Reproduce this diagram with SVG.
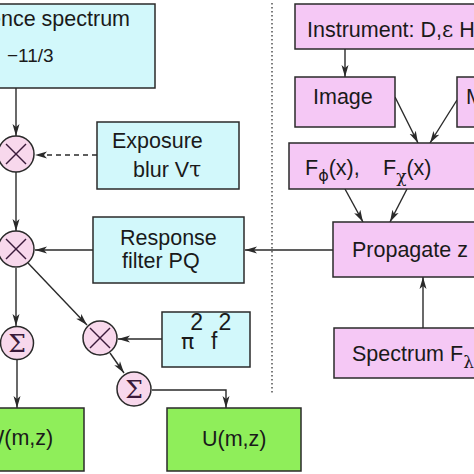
<svg xmlns="http://www.w3.org/2000/svg" width="474" height="474" viewBox="0 0 474 474">
<style>
.t{font-family:"Liberation Sans",Arial,sans-serif;font-size:21.5px;fill:#1a1a1a}
.cy{fill:#d2f8fb;stroke:#2a2a2a;stroke-width:1.5}
.pk{fill:#f5c8f5;stroke:#2a2a2a;stroke-width:1.5}
.gr{fill:#8fee5a;stroke:#2a2a2a;stroke-width:1.5}
.ci{fill:#f8d8ec;stroke:#2a2a2a;stroke-width:1.5}
.x{stroke:#3a1a3a;stroke-width:1.4}
.sg{font-family:"DejaVu Serif",serif;font-size:25px;fill:#3a1a3a}
.c{fill:none;stroke:#2a2a2a;stroke-width:1.4}
</style>
<defs>
<marker id="a" viewBox="0 0 12 8" refX="12" refY="4" markerWidth="12" markerHeight="8" markerUnits="userSpaceOnUse" orient="auto">
<path d="M0,0.5 L12,4 L0,7.5 L3,4 Z" fill="#2a2a2a"/>
</marker>
</defs>
<rect width="474" height="474" fill="#ffffff"/>
<g id="connectors">
<line class="c" x1="16" y1="88" x2="16" y2="136" marker-end="url(#a)"/>
<line class="c" x1="97" y1="155" x2="35" y2="155" stroke-dasharray="5,4" marker-end="url(#a)"/>
<line class="c" x1="16" y1="172" x2="16" y2="231" marker-end="url(#a)"/>
<line class="c" x1="93" y1="250" x2="35" y2="250" marker-end="url(#a)"/>
<line class="c" x1="333" y1="250" x2="245" y2="250" marker-end="url(#a)"/>
<line class="c" x1="16" y1="268" x2="16" y2="326" marker-end="url(#a)"/>
<line class="c" x1="28" y1="263" x2="87" y2="325" marker-end="url(#a)"/>
<line class="c" x1="162" y1="339" x2="118" y2="339" marker-end="url(#a)"/>
<line class="c" x1="110" y1="353" x2="124" y2="373" marker-end="url(#a)"/>
<line class="c" x1="17" y1="360" x2="17" y2="408" marker-end="url(#a)"/>
<polyline class="c" points="152,390 226,390 226,408" marker-end="url(#a)"/>
<line x1="272" y1="3" x2="272" y2="393" stroke="#444" stroke-width="1.4" stroke-dasharray="1.5,2.5"/>
<line class="c" x1="345" y1="49" x2="345" y2="77" marker-end="url(#a)"/>
<line class="c" x1="395" y1="97" x2="418" y2="143" marker-end="url(#a)"/>
<line class="c" x1="457" y1="100" x2="430" y2="143" marker-end="url(#a)"/>
<line class="c" x1="345" y1="189" x2="363" y2="222" marker-end="url(#a)"/>
<line class="c" x1="407" y1="189" x2="390" y2="222" marker-end="url(#a)"/>
<line class="c" x1="423" y1="328" x2="423" y2="277" marker-end="url(#a)"/>
</g>
<g id="turbulence">
<rect class="cy" x="-10" y="4" width="165" height="84"/>
<text class="t" x="130" y="26" text-anchor="end">Turbulence spectrum</text>
<text class="t" x="7" y="62" style="font-size:19px">−11/3</text>
</g>
<g id="mult1">
<circle class="ci" cx="16" cy="154" r="18"/>
<line class="x" x1="6" y1="144" x2="26" y2="164"/><line class="x" x1="26" y1="144" x2="6" y2="164"/>
</g>
<g id="exposure">
<rect class="cy" x="97" y="122" width="142" height="67"/>
<text class="t" x="112" y="148">Exposure</text>
<text class="t" x="133" y="177">blur  V<tspan font-family="DejaVu Serif,serif">τ</tspan></text>
</g>
<g id="mult2">
<circle class="ci" cx="16" cy="249" r="18"/>
<line class="x" x1="6" y1="239" x2="26" y2="259"/><line class="x" x1="26" y1="239" x2="6" y2="259"/>
</g>
<g id="response">
<rect class="cy" x="93" y="217" width="151" height="66"/>
<text class="t" x="120" y="245">Response</text>
<text class="t" x="122" y="268">filter PQ</text>
</g>
<g id="sum1">
<circle class="ci" cx="17" cy="343" r="16.5"/>
<text class="sg" x="17" y="352" text-anchor="middle">Σ</text>
</g>
<g id="mult3">
<circle class="ci" cx="100" cy="338" r="17"/>
<line class="x" x1="90" y1="328" x2="110" y2="348"/><line class="x" x1="110" y1="328" x2="90" y2="348"/>
</g>
<g id="pif">
<rect class="cy" x="162" y="312" width="88" height="55"/>
<text class="t" x="181" y="349" style="font-size:23px"><tspan font-family="DejaVu Sans,sans-serif" style="font-size:22px">π</tspan><tspan dx="-4" dy="-19">2</tspan><tspan dx="8" dy="19">f</tspan><tspan dx="1" dy="-19">2</tspan></text>
</g>
<g id="sum2">
<circle class="ci" cx="134" cy="389" r="17"/>
<text class="sg" x="134" y="398" text-anchor="middle">Σ</text>
</g>
<g id="W">
<rect class="gr" x="-10" y="408" width="94" height="63"/>
<text class="t" x="-16" y="445">W(m,z)</text>
</g>
<g id="U">
<rect class="gr" x="167" y="408" width="134" height="63"/>
<text class="t" x="202" y="446">U(m,z)</text>
</g>
<g id="instrument">
<rect class="pk" x="295" y="4" width="190" height="45"/>
<text class="t" x="307" y="37">Instrument: D,<tspan font-family="DejaVu Serif,serif">ε</tspan> H</text>
</g>
<g id="image">
<rect class="pk" x="295" y="77" width="100" height="50"/>
<text class="t" x="313" y="104">Image</text>
</g>
<g id="mask">
<rect class="pk" x="457" y="77" width="40" height="50"/>
<text class="t" x="466" y="104">Mask</text>
</g>
<g id="filters">
<rect class="pk" x="289" y="143" width="200" height="46"/>
<text class="t" x="305" y="175">F<tspan font-family="DejaVu Sans,sans-serif" style="font-size:16px" dy="6">ϕ</tspan><tspan dy="-6">(x),</tspan></text>
<text class="t" x="383" y="175">F<tspan font-family="DejaVu Serif,serif" style="font-size:17px" dy="7">χ</tspan><tspan dy="-7">(x)</tspan></text>
</g>
<g id="propagate">
<rect class="pk" x="333" y="222" width="150" height="55"/>
<text class="t" x="352" y="257">Propagate z</text>
</g>
<g id="spectrum">
<rect class="pk" x="334" y="328" width="150" height="50"/>
<text class="t" x="352" y="361">Spectrum F<tspan font-family="DejaVu Serif,serif" style="font-size:17px" dy="7">λ</tspan></text>
</g>
</svg>
